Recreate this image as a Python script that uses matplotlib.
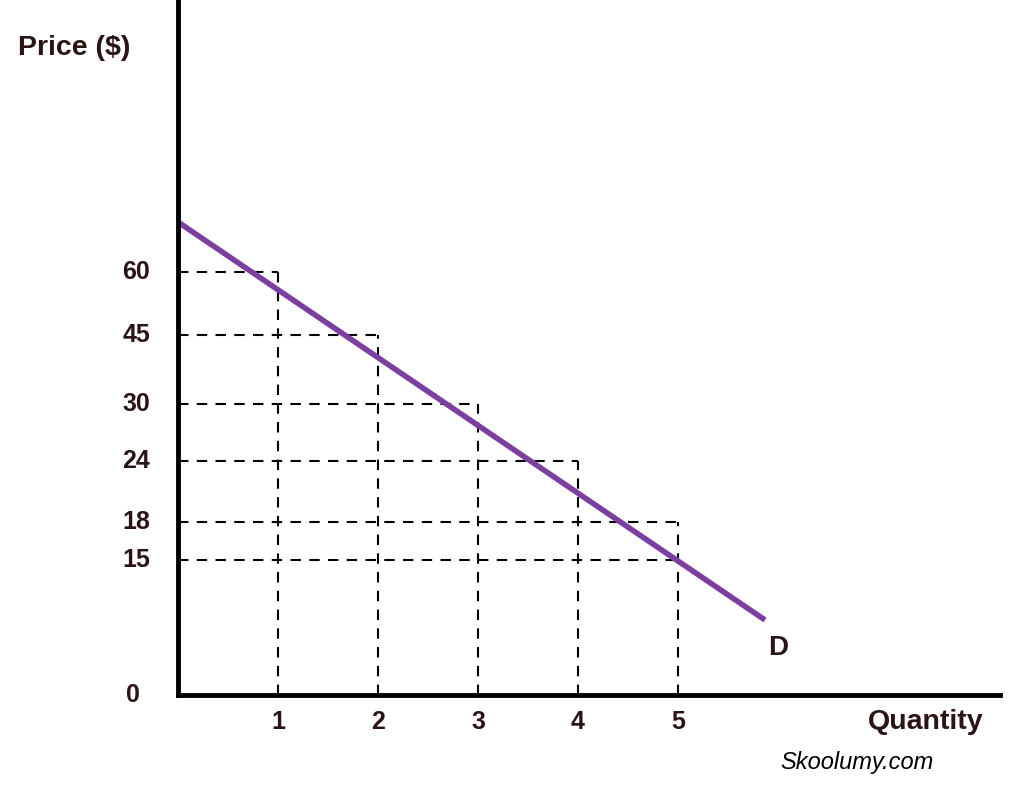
import matplotlib.pyplot as plt

plt.rcParams['font.family'] = ['Liberation Sans', 'DejaVu Sans']

# schematic demand chart: price levels and quantities
quantities = [1, 2, 3, 4, 5]
prices = [60, 45, 30, 24, 18, 15]
price_height = [423, 360, 291, 234, 173, 135]   # drawn height of each price level (px above axis)
# price level each quantity's vertical dash reaches
q_level = [60, 45, 30, 24, 18]
# demand line end points (quantity, height)
demand_x = [0, 5.87]
demand_y = [473, 75]

W, H = 1028, 790
fig = plt.figure(figsize=(W / 100, H / 100), dpi=100)
ax = fig.add_axes([178 / W, (H - 695) / H, (1000 - 178) / W, 695 / H])
ax.set_xlim(0, 8.22)
ax.set_ylim(0, 695)
for s in ['top', 'right']:
    ax.spines[s].set_visible(False)
for s in ['left', 'bottom']:
    ax.spines[s].set_linewidth(3.5)
ax.set_xticks([])
ax.set_yticks([])

tc = '#2a1414'
hmap = dict(zip(prices, price_height))
qmap = {60: 1, 45: 2, 30: 3, 24: 4, 18: 5, 15: 5}
for p in prices:
    ax.plot([0, qmap[p]], [hmap[p], hmap[p]], 'k--', lw=1.5, dashes=(5, 4))
    fig.text(150 / W, (H - 695 + hmap[p]) / H, str(p), ha='right', va='center',
             fontsize=18, fontweight='bold', color=tc)
for q, lv in zip(quantities, q_level):
    ax.plot([q, q], [0, hmap[lv]], 'k--', lw=1.5, dashes=(5, 4))
    fig.text((178 + q * 100) / W, (H - 722) / H, str(q), ha='center', va='center',
             fontsize=18, fontweight='bold', color=tc)

ax.plot(demand_x, demand_y, color='#7b3fa0', lw=4, solid_capstyle='butt')

fig.text(133 / W, (H - 695) / H, '0', ha='center', va='center', fontsize=18, fontweight='bold', color=tc)
fig.text(18 / W, (H - 48) / H, 'Price ($)', ha='left', va='center', fontsize=20.5, fontweight='bold', color=tc)
fig.text(868 / W, (H - 722) / H, 'Quantity', ha='left', va='center', fontsize=20.5, fontweight='bold', color=tc)
fig.text(768 / W, (H - 648) / H, 'D', ha='left', va='center', fontsize=20, fontweight='bold', color=tc)
fig.text(780 / W, (H - 763) / H, 'Skoolumy.com', ha='left', va='center', fontsize=17, style='italic', color='black')

fig.savefig('out.png', dpi=100)
